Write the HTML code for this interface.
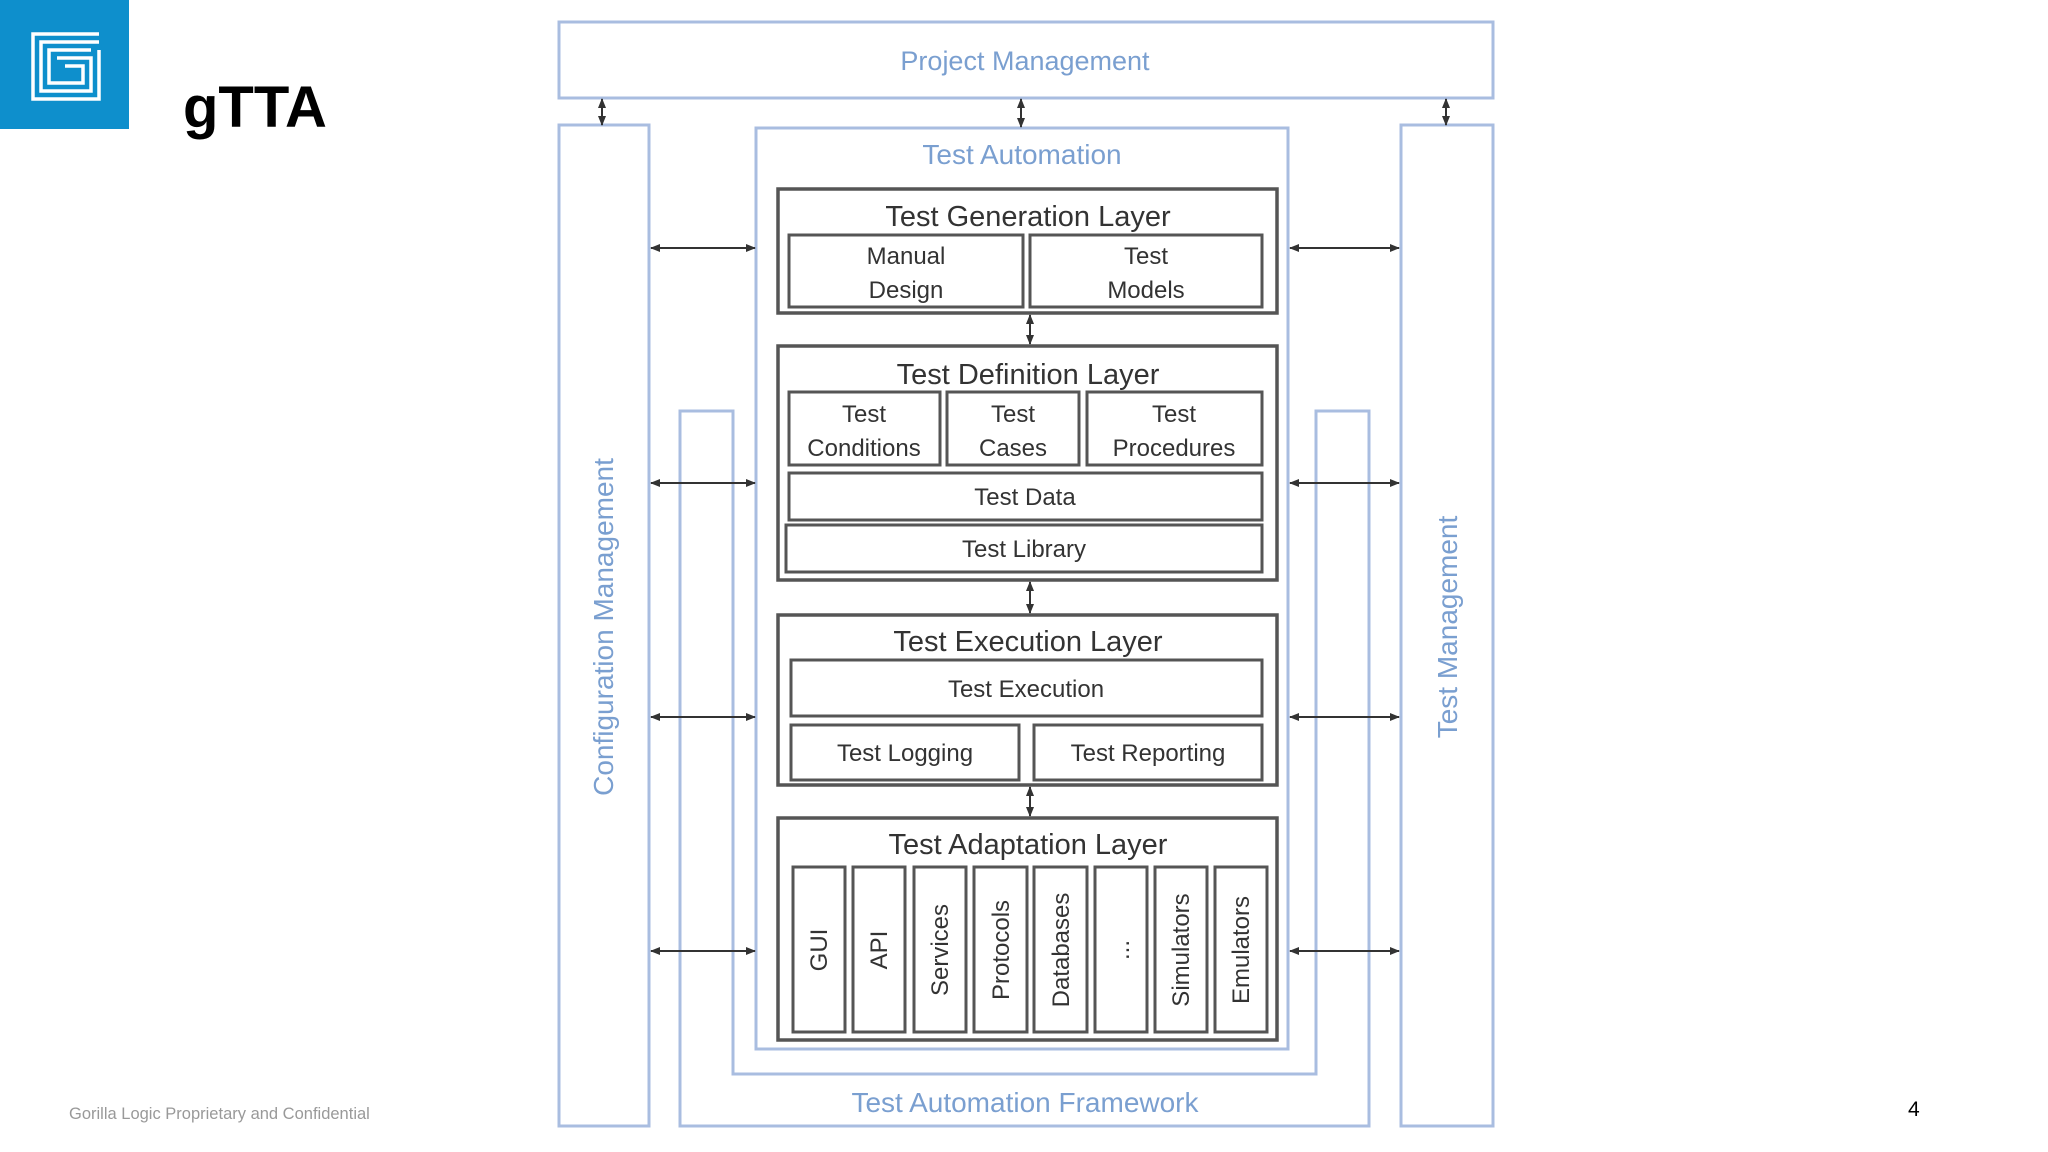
<!DOCTYPE html>
<html><head><meta charset="utf-8"><style>
html,body{margin:0;padding:0;background:#fff;}
svg{display:block}
text{font-family:"Liberation Sans",sans-serif;}
</style></head><body>
<svg width="2048" height="1152" viewBox="0 0 2048 1152" xmlns="http://www.w3.org/2000/svg">
<defs>
<marker id="a" viewBox="0 0 10 10" refX="9" refY="5" markerWidth="5" markerHeight="5" orient="auto-start-reverse"><path d="M0,1 L10,5 L0,9 z" fill="#333"/></marker>
</defs>
<rect width="2048" height="1152" fill="#fff"/>
<!-- logo -->
<rect x="0" y="0" width="129" height="129" fill="#0e8fcc"/>
<g fill="none" stroke="#fff" stroke-width="3.5">
<path d="M99,34 H33 V99 H99 V50"/>
<path d="M99,42 H41 V91 H91 V58 H57"/>
<path d="M91,50 H49 V83 H83 V66 H65"/>
</g>
<text x="183" y="127" font-size="58" font-weight="bold" fill="#000">gTTA</text>

<g fill="none" stroke="#a9bde0" stroke-width="3">
<rect x="559" y="22" width="934" height="76"/>
<rect x="559" y="125" width="90" height="1001"/>
<rect x="1401" y="125" width="92" height="1001"/>
<path d="M680,1126 V411 H733 V1074 H1316 V411 H1369 V1126 Z"/>
<rect x="756" y="128" width="532" height="921"/>
</g>

<g fill="none" stroke="#555" stroke-width="3.5">
<rect x="778" y="189" width="499" height="124"/>
<rect x="778" y="346" width="499" height="234"/>
<rect x="778" y="615" width="499" height="170"/>
<rect x="778" y="818" width="499" height="222"/>
</g>
<g fill="none" stroke="#555" stroke-width="3">
<rect x="789" y="235" width="234" height="72"/>
<rect x="1030" y="235" width="232" height="72"/>
<rect x="789" y="392" width="151" height="73"/>
<rect x="947" y="392" width="132" height="73"/>
<rect x="1087" y="392" width="175" height="73"/>
<rect x="789" y="473" width="473" height="47"/>
<rect x="786" y="525" width="476" height="47"/>
<rect x="791" y="660" width="471" height="56"/>
<rect x="791" y="725" width="228" height="55"/>
<rect x="1034" y="725" width="228" height="55"/>
<rect x="793" y="867" width="52" height="165"/>
<rect x="853" y="867" width="52" height="165"/>
<rect x="914" y="867" width="52" height="165"/>
<rect x="974" y="867" width="53" height="165"/>
<rect x="1034" y="867" width="53" height="165"/>
<rect x="1095" y="867" width="52" height="165"/>
<rect x="1155" y="867" width="52" height="165"/>
<rect x="1215" y="867" width="52" height="165"/>
</g>

<g stroke="#333" stroke-width="2" marker-start="url(#a)" marker-end="url(#a)">
<line x1="602" y1="99" x2="602" y2="125"/>
<line x1="1021" y1="99" x2="1021" y2="127"/>
<line x1="1446" y1="99" x2="1446" y2="125"/>
<line x1="651" y1="248" x2="755" y2="248"/>
<line x1="651" y1="483" x2="755" y2="483"/>
<line x1="651" y1="717" x2="755" y2="717"/>
<line x1="651" y1="951" x2="755" y2="951"/>
<line x1="1290" y1="248" x2="1399" y2="248"/>
<line x1="1290" y1="483" x2="1399" y2="483"/>
<line x1="1290" y1="717" x2="1399" y2="717"/>
<line x1="1290" y1="951" x2="1399" y2="951"/>
<line x1="1030" y1="315" x2="1030" y2="344"/>
<line x1="1030" y1="582" x2="1030" y2="613"/>
<line x1="1030" y1="787" x2="1030" y2="816"/>
</g>

<g fill="#7a9fd0" text-anchor="middle">
<text x="1025" y="70" font-size="27">Project Management</text>
<text x="1022" y="164" font-size="28">Test Automation</text>
<text x="1025" y="1112" font-size="28">Test Automation Framework</text>
<text transform="translate(613,627) rotate(-90)" font-size="28">Configuration Management</text>
<text transform="translate(1457,627) rotate(-90)" font-size="28">Test Management</text>
</g>

<g fill="#333" text-anchor="middle">
<text x="1028" y="226" font-size="29">Test Generation Layer</text>
<text x="1028" y="384" font-size="29">Test Definition Layer</text>
<text x="1028" y="651" font-size="29">Test Execution Layer</text>
<text x="1028" y="854" font-size="29">Test Adaptation Layer</text>
<g font-size="24">
<text x="906" y="264">Manual</text><text x="906" y="298">Design</text>
<text x="1146" y="264">Test</text><text x="1146" y="298">Models</text>
<text x="864" y="422">Test</text><text x="864" y="456">Conditions</text>
<text x="1013" y="422">Test</text><text x="1013" y="456">Cases</text>
<text x="1174" y="422">Test</text><text x="1174" y="456">Procedures</text>
<text x="1025" y="505">Test Data</text>
<text x="1024" y="557">Test Library</text>
<text x="1026" y="697">Test Execution</text>
<text x="905" y="761">Test Logging</text>
<text x="1148" y="761">Test Reporting</text>
<text transform="translate(827,950) rotate(-90)">GUI</text>
<text transform="translate(887,950) rotate(-90)">API</text>
<text transform="translate(948,950) rotate(-90)">Services</text>
<text transform="translate(1009,950) rotate(-90)">Protocols</text>
<text transform="translate(1069,950) rotate(-90)">Databases</text>
<text transform="translate(1129,950) rotate(-90)">...</text>
<text transform="translate(1189,950) rotate(-90)">Simulators</text>
<text transform="translate(1249,950) rotate(-90)">Emulators</text>
</g>
</g>

<text x="69" y="1119" font-size="16.5" fill="#999">Gorilla Logic Proprietary and Confidential</text>
<text x="1908" y="1116" font-size="21" fill="#000">4</text>
</svg>
</body></html>
